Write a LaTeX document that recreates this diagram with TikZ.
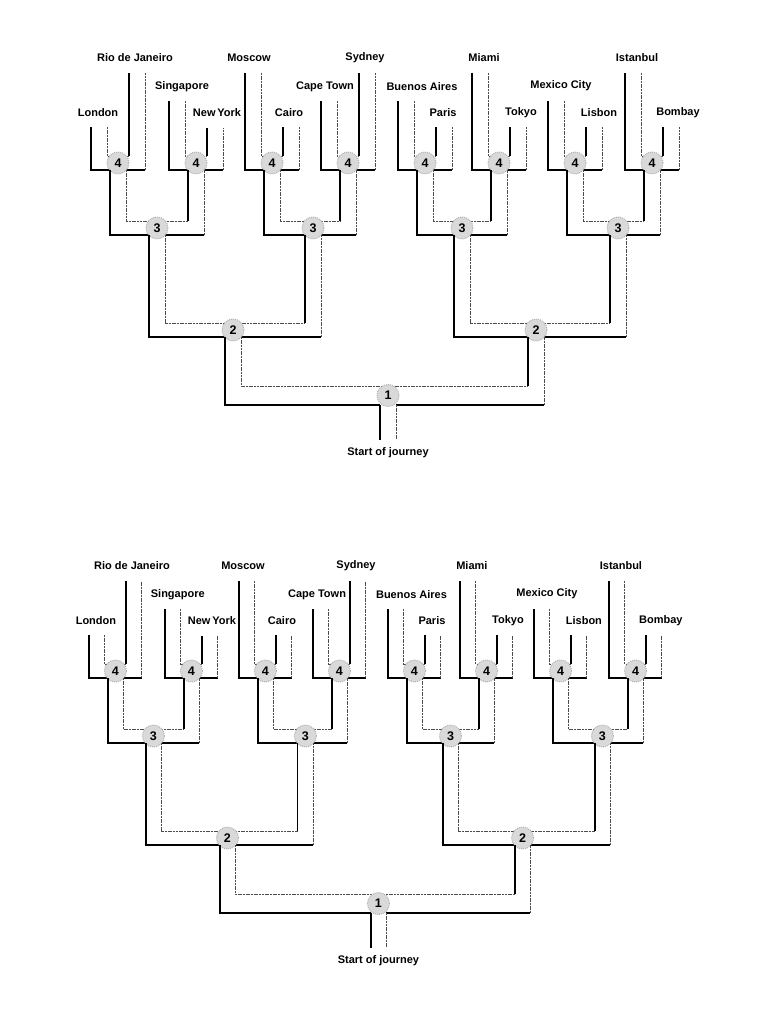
\documentclass[tikz,border=0pt]{standalone}
\usepackage{fontspec}
\setmainfont{Liberation Sans}
\tikzset{
  wallA/.style={line width=1.8pt,black},
  wallB/.style={line width=0.8pt,black!70,dash pattern=on 2pt off 0.7pt},
  stop/.style={circle,fill=gray!30,draw=gray!60,densely dotted,line width=1pt,minimum size=22pt,inner sep=0pt,font=\fontsize{12.5}{13}\selectfont\bfseries},
  city/.style={font=\fontsize{11}{12}\selectfont\bfseries,inner sep=1pt}
}
\def\w{8}
% center, yo, yi, L, R, tL, tR, number
\newcommand{\junc}[8]{%
  \draw[wallA] (#4-\w,#6)--(#4-\w,#2)--(#1-\w,#2);
  \draw[wallA] (#1+\w,#2)--(#5+\w,#2);
  \draw[wallB] (#5+\w,#2)--(#5+\w,#7);
  \draw[wallB] (#4+\w,#6)--(#4+\w,#3)--(#5-\w,#3);
  \draw[wallA] (#5-\w,#3)--(#5-\w,#7);
  \node[stop] at (#1,{(#2+#3)/2}) {#8};
}
\newcommand{\fulltree}{%
  \junc{118}{170}{156}{99}{137}{127}{73}{4}
  \junc{196}{170}{156}{177}{215}{101}{128}{4}
  \junc{272}{170}{156}{253}{291}{73}{127}{4}
  \junc{348}{170}{156}{329}{367}{101}{73}{4}
  \junc{425}{170}{156}{406}{444}{101}{127}{4}
  \junc{499}{170}{156}{480}{518}{73}{127}{4}
  \junc{575}{170}{156}{556}{594}{101}{127}{4}
  \junc{652}{170}{156}{633}{671}{73}{127}{4}
  \junc{157}{235}{221}{118}{196}{170}{170}{3}
  \junc{313}{235}{221}{272}{348}{170}{170}{3}
  \junc{462}{235}{221}{425}{499}{170}{170}{3}
  \junc{618}{235}{221}{575}{652}{170}{170}{3}
  \junc{233}{337}{323}{157}{313}{235}{235}{2}
  \junc{536}{337}{323}{462}{618}{235}{235}{2}
  \junc{388}{405}{386}{233}{536}{337}{337}{1}
  \draw[wallA] (388-\w,405)--(388-\w,440);
  \draw[wallB] (388+\w,405)--(388+\w,440);
  \node[city] (rio) at (135,58) {Rio de Janeiro};
  \node[city] (sing) at (182,87) {Singapore};
  \node[city] (lon) at (98,113) {London};
  \node[city] (ny) at (217,113) {New\,York};
  \node[city] (mos) at (249,58) {Moscow};
  \node[city] (cai) at (289,113) {Cairo};
  \node[city] (cpt) at (325,87) {Cape Town};
  \node[city] (syd) at (365,58) {Sydney};
  \node[city] (ba) at (422,87) {Buenos Aires};
  \node[city] (par) at (443,113) {Paris};
  \node[city] (mia) at (484,58) {Miami};
  \node[city] (tok) at (521,113) {Tokyo};
  \node[city] (mex) at (561,86) {Mexico City};
  \node[city] (lis) at (599,113) {Lisbon};
  \node[city] (ist) at (637,58) {Istanbul};
  \node[city] (bom) at (678,113) {Bombay};
  \node[city] (start) at (388,453) {Start of journey};
}
\begin{document}
\begin{tikzpicture}[x=1pt,y=-1pt]
\useasboundingbox (0,0) rectangle (768,1024);
\begin{scope}
\fulltree
\end{scope}
\begin{scope}[shift={(0.5,508)},xscale=0.974]
\fulltree
\end{scope}
\end{tikzpicture}
\end{document}
